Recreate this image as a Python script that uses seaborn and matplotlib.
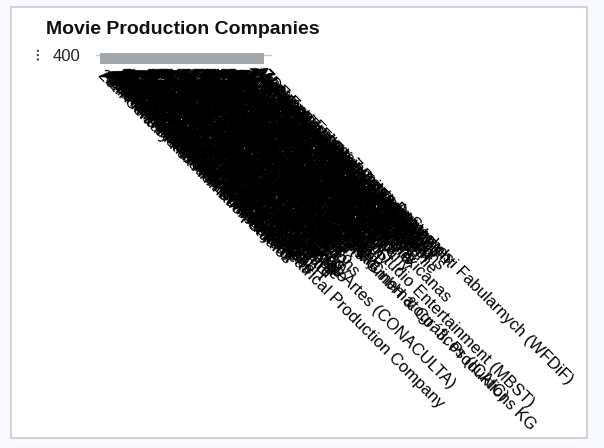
import matplotlib.pyplot as plt
import matplotlib.patches as mpatches
import pandas as pd
import seaborn as sns

companies = [
    "20th Century Fox Animation Studios",
    "A24 Films Distribution Company",
    "Aardman Animations Limited Bristol",
    "Academy Pictures Corporation Ltd.",
    "Alcon Entertainment Film Company",
    "Alliance Atlantis Communications",
    "American International Pictures Theatrical Production Company",
    "American Zoetrope Pictures Studio",
    "Amblin Entertainment Productions",
    "Anglo-Amalgamated Film Productions",
    "Annapurna Pictures Film Company",
    "Argentina Sono Film S.A.C.I. Estudios",
    "Arte France Cinéma Coproductions",
    "Atlas Entertainment Motion Pictures",
    "Australian Film Finance Corporation",
    "Babelsberg Film und Fernsehen GmbH",
    "Bad Robot Productions Television",
    "Banque Populaire Images Cinéma",
    "Bavaria Film International GmbH",
    "BBC Films Independent Drama Unit",
    "Beijing Enlight Pictures Company",
    "Beta Cinema Film Sales and Rights",
    "Blumhouse Productions Television",
    "Bord Scannán na hÉireann Film Board",
    "British Film Institute Production Centre",
    "Canal+ España Producciones S.A.",
    "Canal+ Polska Coproduction Studio",
    "Carolco Pictures Incorporated",
    "Castle Rock Entertainment Studios",
    "Centre National de la Cinématographie",
    "China Film Co-Production Corporation",
    "Cinecittà Studios Produzioni Roma",
    "Cinémas de Normandie Film Fund",
    "Columbia Pictures Corporation Ltd.",
    "Compagnie Industrielle et Commerciale",
    "Consejo Nacional para la Cultura y las Artes (CONACULTA)",
    "Constantin Film Produktion GmbH",
    "Corporación Colombiana de Cine S.A.",
    "Danish Film Institute Workshop",
    "Dentsu Music and Entertainment Inc.",
    "Det Danske Filminstitut Produktion",
    "Deutscher Filmförderfonds (DFFF)",
    "Dimension Films Production Company",
    "DreamWorks Animation SKG Studios",
    "Dune Entertainment Partners III",
    "Ealing Studios International Ltd.",
    "Eon Productions Limited London",
    "Estudios Churubusco Azteca S.A.",
    "Eurimages Council of Europe Fund",
    "EuropaCorp Distribution Company",
    "Fábrica de Cine Producciones S.A.",
    "Film Fund Luxembourg Coproductions",
    "FilmFernsehFonds Bayern GmbH",
    "Filmförderungsanstalt (FFA) Berlin",
    "Filmstiftung Nordrhein-Westfalen",
    "Focus Features International Ltd.",
    "Fondo de Fomento Cinematográfico",
    "Fonds Sud Cinéma Coproductions",
    "Fox Searchlight Pictures Studios",
    "France 2 Cinéma Coproductions",
    "Gainsborough Pictures Limited",
    "Gaumont International Television",
    "Generalitat de Catalunya (ICEC)",
    "Golden Harvest Company Limited",
    "Goskino Committee of the USSR",
    "Hammer Film Productions Limited",
    "Hessische Filmförderung Frankfurt",
    "HBO Films Original Programming",
    "Hollywood Pictures Corporation",
    "Icelandic Film Centre Reykjavík",
    "Imagine Entertainment Productions",
    "IMF Internationale Medien und Film GmbH & Co. 3. Produktions KG",
    "Instituto Cubano del Arte e Industria Cinematográficos (ICAIC)",
    "Instituto de la Cinematografía (ICAA)",
    "Instituto Mexicano de Cinematografía",
    "Instituto Nacional de Cine (INCAA)",
    "Irish Film Board Production Fund",
    "Istituto Luce Cinecittà S.r.l.",
    "Jerry Bruckheimer Films Company",
    "Kadokawa Daiei Studio Company",
    "Kinowelt Filmproduktion GmbH",
    "Korean Film Council (KOFIC) Seoul",
    "Legendary Pictures Entertainment",
    "Lenfilm Studio Leningrad Films",
    "Lions Gate Films International",
    "London Film Productions Limited",
    "Lucasfilm Limited Special Effects",
    "Lux Film Società per Azioni Roma",
    "Malpaso Productions Film Company",
    "Mandarin Films Distribution Co.",
    "Medienboard Berlin-Brandenburg Studio Entertainment (MBST)",
    "Metro-Goldwyn-Mayer Studios Inc.",
    "Miramax Films International",
    "Mitteldeutsche Medienförderung",
    "Mosfilm Cinema Concern Moscow",
    "National Film Board of Canada",
    "Nederlands Fonds voor de Film",
    "New Line Cinema Productions Inc.",
    "Nikkatsu Corporation Film Studio",
    "Nordisk Film Production Sverige",
    "Norwegian Film Institute Oslo",
    "Nu Image Millennium Films Company",
    "Odeon Film Produktion GmbH",
    "Office National du Film du Canada",
    "Orion Pictures Corporation Studio",
    "Paramount Pictures Corporation",
    "Pathé Distribution Film Company",
    "Plan B Entertainment Productions",
    "Polish Film Institute Warsaw",
    "PolyGram Filmed Entertainment",
    "Producciones Cinematográficas Mexicanas",
    "Rai Cinema Produzioni Italia",
    "Rank Organisation Film Productions",
    "Regency Enterprises Film Company",
    "Regione Lazio Fondo per il Cinema",
    "Relativity Media Entertainment",
    "Republic Pictures Corporation",
    "RKO Radio Pictures Incorporated",
    "Scott Free Productions London",
    "Screen Australia Production Fund",
    "Selznick International Pictures",
    "Shaw Brothers Hong Kong Studio",
    "Shochiku Company Limited Tokyo",
    "Société Nouvelle de Cinématographie",
    "Sony Pictures Classics Division",
    "Studio Babelsberg Motion Pictures",
    "Studio Ghibli Tokuma Shoten Co.",
    "StudioCanal International Films",
    "Summit Entertainment Productions",
    "Svensk Filmindustri (SF) Stockholm",
    "Swedish Film Institute Production",
    "Telefilm Canada Feature Film Fund",
    "Televisión Española (TVE) Madrid",
    "The Samuel Goldwyn Company",
    "The Weinstein Company Productions",
    "Toho Company Limited Film Studio",
    "Tohokushinsha Film Corporation",
    "Touchstone Pictures Productions",
    "TriStar Pictures Incorporated",
    "UK Film Council Premiere Fund",
    "United Artists Corporation Films",
    "Universal Pictures International",
    "Village Roadshow Pictures Limited",
    "Vlaams Audiovisueel Fonds (VAF)",
    "Walt Disney Pictures Animation",
    "Warner Bros. Pictures Entertainment",
    "Working Title Films Productions",
    "Wytwórnia Filmów Dokumentalnych i Fabularnych (WFDiF)",
    "ZDF Enterprises Zweites Deutsches",
    "Zentropa Entertainments ApS",
]

movie_counts = [
    478, 482, 470, 485, 476, 480, 472, 488, 474, 481,
    469, 486, 477, 483, 471, 479, 487, 473, 484, 475,
    480, 468, 486, 477, 482, 474, 489, 470, 481, 476,
    483, 472, 485, 479, 471, 488, 475, 482, 469, 484,
    478, 486, 473, 480, 487, 470, 483, 476, 481, 474,
    485, 472, 479, 488, 471, 482, 477, 484, 469, 486,
    475, 480, 473, 487, 478, 470, 483, 476, 481, 485,
    472, 479, 488, 474, 482, 471, 486, 477, 484, 469,
    480, 475, 487, 473, 481, 478, 485, 470, 483, 476,
    489, 472, 480, 474, 486, 471, 482, 477, 484, 479,
    476, 483, 470, 487, 474, 481, 478, 485, 472, 480,
    488, 469, 484, 477, 482, 473, 486, 471, 479, 475,
    483, 470, 487, 476, 481, 474, 489, 472, 485, 478,
    480, 468, 486, 473, 482, 477, 484, 471, 488, 475,
    479, 483, 470, 486, 474, 481, 477, 485, 472, 480,
]

y_ticks = [400]

df = pd.DataFrame({"company": companies, "count": movie_counts})
order = sorted(companies, key=str.lower)
n = len(order)

sns.set_style("white")
plt.rcParams["font.family"] = ["Liberation Sans", "DejaVu Sans"]

W, H = 604, 448
fig = plt.figure(figsize=(W / 100, H / 100), dpi=100, facecolor="#f7f9fe")

# white card with light border, behind everything
card = mpatches.Rectangle((11 / W, (H - 438) / H), 576 / W, 431 / H,
                          transform=fig.transFigure, facecolor="white",
                          edgecolor="#d3d3d3", linewidth=1.5, zorder=-10)
fig.add_artist(card)

# axes squeezed to a thin strip at the top
ax_l, ax_r, ax_t, ax_b = 96, 272, 53, 64
ax = fig.add_axes([ax_l / W, (H - ax_b) / H, (ax_r - ax_l) / W, (ax_b - ax_t) / H])
ax.set_facecolor("none")
ax.set_zorder(1)

sns.barplot(data=df, x="company", y="count", order=order, color="#a1a6ab",
            saturation=1, width=1, linewidth=0, ax=ax, zorder=2)

# bars span 100..264 px inside the axes
unit = 164 / n
ax.set_xlim(-0.5 - 4 / unit, n - 0.5 + 8 / unit)
ax.set_ylim(0, 490)
ax.set_yticks(y_ticks)
ax.set_yticklabels([str(v) for v in y_ticks], fontsize=12, color="#222222")
ax.yaxis.grid(True, color="#c8c8c8", linewidth=1, zorder=1)
ax.tick_params(axis="y", length=8, width=1, color="#9a9a9a", pad=3)
ax.tick_params(axis="x", length=4, width=0.8, color="#888888", pad=2)
for lab in ax.get_xticklabels():
    lab.set_rotation(-45)
    lab.set_rotation_mode("anchor")
    lab.set_ha("left")
    lab.set_va("center")
    lab.set_fontsize(12)
    lab.set_color("#000000")
for s in ax.spines.values():
    s.set_visible(False)

ax.set_xlabel("")
ax.set_ylabel("…", fontsize=10, fontweight="bold", color="#444444")
ax.yaxis.set_label_coords((42 - ax_l) / (ax_r - ax_l), 1.0)

fig.text(46 / W, 1 - 30 / H, "Movie Production Companies", fontsize=14,
         fontweight="bold", ha="left", va="center", color="#111111")

fig.savefig("out.png", dpi=100, facecolor=fig.get_facecolor())
